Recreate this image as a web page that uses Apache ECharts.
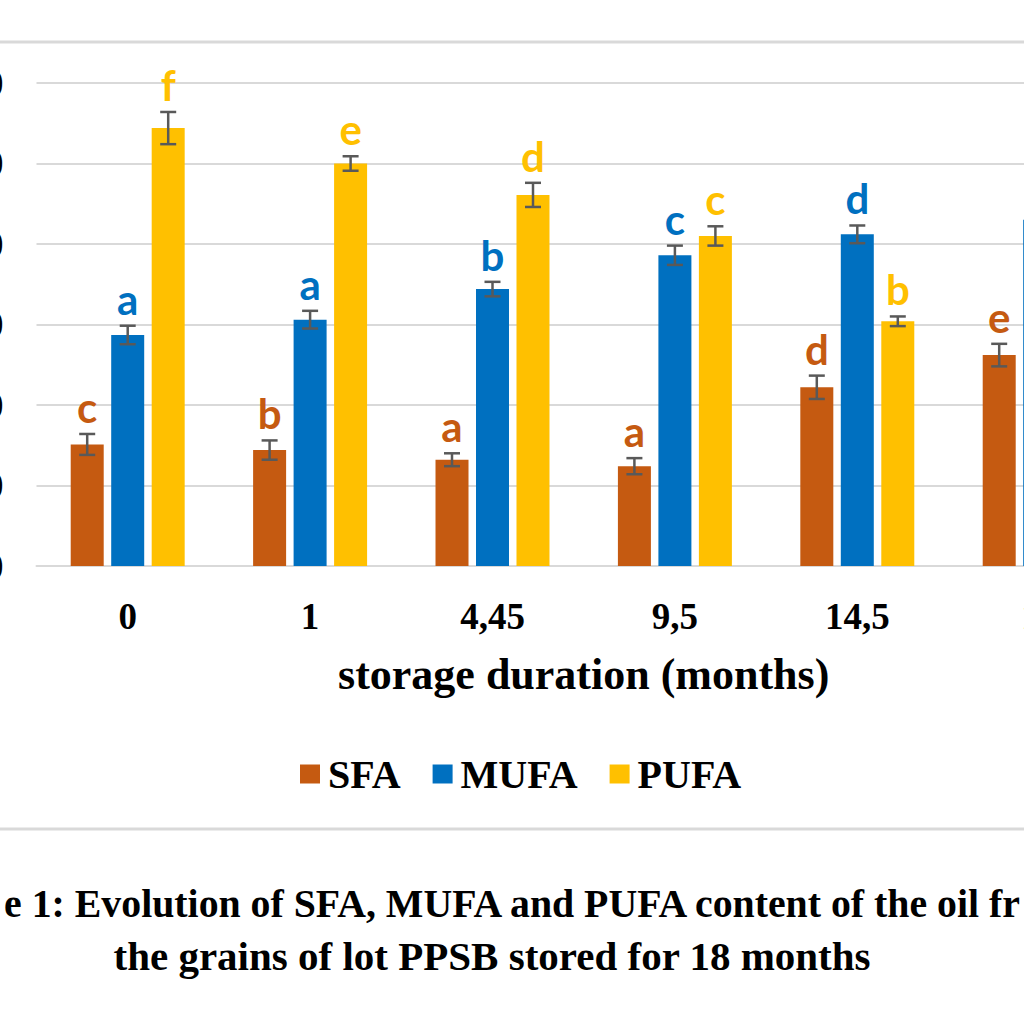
<!DOCTYPE html>
<html>
<head>
<meta charset="utf-8">
<script src="https://cdn.jsdelivr.net/npm/echarts@6/dist/echarts.min.js"></script>
<style>
  html, body { margin: 0; padding: 0; background: #ffffff; }
  #chart { width: 1024px; height: 1024px; }
</style>
</head>
<body>
<div id="chart"></div>
<script>
// ---- data ----
const categories = ['0', '1', '4,45', '9,5', '14,5', '18'];
const seriesNames = ['SFA', 'MUFA', 'PUFA'];
const sfa      = [15.1, 14.4, 13.2, 12.4, 22.2, 26.2];
const sfaErr   = [1.3, 1.2, 0.8, 1.0, 1.45, 1.4];
const sfaLetters = ['c', 'b', 'a', 'a', 'd', 'e'];
const mufa     = [28.7, 30.6, 34.4, 38.6, 41.2, 43.0];
const mufaErr  = [1.15, 1.1, 0.9, 1.2, 1.1, 1.0];
const mufaLetters = ['a', 'a', 'b', 'c', 'd', 'e'];
const pufa     = [54.4, 50.0, 46.1, 41.0, 30.4, 24.0];
const pufaErr  = [2.0, 0.9, 1.5, 1.2, 0.6, 1.0];
const pufaLetters = ['f', 'e', 'd', 'c', 'b', 'a'];
const yTicks = { min: 0, max: 60, interval: 10 };
// caption as visible in the (cropped) reference
const captionLines = [
  'e 1: Evolution of SFA, MUFA and PUFA content of the oil fr',
  'the grains of lot PPSB stored for 18 months'
];

// ---- styling constants ----
const colors = ['#C55A11', '#0070C0', '#FFC000'];
const BAR_WIDTH = 33;
const BAR_STEP = 40.5;     // centre-to-centre distance of bars within a group
const SERIF = '"Liberation Serif", "Times New Roman", serif';
const LETTER_FONT = 'Lato, "Open Sans", sans-serif';

const chart = echarts.init(document.getElementById('chart'), null, { renderer: 'svg' });

function barSeries(i, values) {
  return {
    name: seriesNames[i],
    type: 'bar',
    data: values,
    barWidth: BAR_WIDTH,
    barGap: ((BAR_STEP - BAR_WIDTH) / BAR_WIDTH * 100).toFixed(1) + '%',
    itemStyle: { color: colors[i] },
    z: 2
  };
}

function errSeries(i, values, errs, letters) {
  return {
    name: seriesNames[i] + ' error',
    type: 'custom',
    data: values.map((v, k) => [k, v, errs[k]]),
    encode: { x: 0, y: 1 },
    z: 5,
    silent: true,
    renderItem: function (params, api) {
      const c = api.value(0), v = api.value(1), e = api.value(2);
      const top = api.coord([c, v + e]);
      const bot = api.coord([c, v - e]);
      const x = top[0] + (i - 1) * BAR_STEP;
      const cap = 8;
      const ls = { stroke: '#595959', lineWidth: 2.5 };
      return {
        type: 'group',
        children: [
          { type: 'line', shape: { x1: x, y1: top[1], x2: x, y2: bot[1] }, style: ls },
          { type: 'line', shape: { x1: x - cap, y1: top[1], x2: x + cap, y2: top[1] }, style: ls },
          { type: 'line', shape: { x1: x - cap, y1: bot[1], x2: x + cap, y2: bot[1] }, style: ls },
          {
            type: 'text', x: x, y: top[1] - 6,
            style: {
              text: letters[params.dataIndex], fill: colors[i],
              fontSize: 42, fontWeight: 'bold', fontFamily: LETTER_FONT,
              align: 'center', verticalAlign: 'bottom'
            }
          }
        ]
      };
    }
  };
}

const option = {
  backgroundColor: '#ffffff',
  animation: false,
  grid: {
    left: 36.5, top: 83, width: 182.4 * categories.length, height: 483,
    outerBoundsMode: 'none', containLabel: false
  },
  legend: {
    data: seriesNames,
    left: 295, top: 749,
    itemWidth: 20, itemHeight: 19, itemGap: 32,
    icon: 'rect',
    textStyle: { fontSize: 40, fontWeight: 'bold', fontFamily: SERIF, color: '#000', padding: [0, 0, 0, 3] }
  },
  xAxis: {
    type: 'category',
    data: categories,
    axisLine: { lineStyle: { color: '#D9D9D9', width: 2 } },
    axisTick: { show: false },
    axisLabel: { fontSize: 37, fontWeight: 'bold', fontFamily: SERIF, color: '#000', margin: 32 },
    name: 'storage duration (months)',
    nameLocation: 'middle',
    nameGap: 86,
    nameTextStyle: { fontSize: 44, fontWeight: 'bold', fontFamily: SERIF, color: '#000' }
  },
  yAxis: {
    type: 'value',
    min: yTicks.min, max: yTicks.max, interval: yTicks.interval,
    axisLine: { show: false },
    axisTick: { show: false },
    splitLine: { lineStyle: { color: '#D9D9D9', width: 2 } },
    axisLabel: { fontSize: 37, fontWeight: 'bold', fontFamily: SERIF, color: '#000', margin: 33 }
  },
  graphic: [
    { type: 'line', shape: { x1: 0, y1: 42, x2: 1024, y2: 42 }, style: { stroke: '#D9D9D9', lineWidth: 3 } },
    { type: 'line', shape: { x1: 0, y1: 829, x2: 1024, y2: 829 }, style: { stroke: '#D9D9D9', lineWidth: 3 } },
    { type: 'text', x: 512, y: 904, style: { text: captionLines[0], fontSize: 39.8, fontWeight: 'bold', fontFamily: SERIF, fill: '#000', align: 'center', verticalAlign: 'middle' } },
    { type: 'text', x: 492, y: 956, style: { text: captionLines[1], fontSize: 41, fontWeight: 'bold', fontFamily: SERIF, fill: '#000', align: 'center', verticalAlign: 'middle' } }
  ],
  series: [
    barSeries(0, sfa),
    barSeries(1, mufa),
    barSeries(2, pufa),
    errSeries(0, sfa, sfaErr, sfaLetters),
    errSeries(1, mufa, mufaErr, mufaLetters),
    errSeries(2, pufa, pufaErr, pufaLetters)
  ]
};
chart.setOption(option);
</script>
</body>
</html>
